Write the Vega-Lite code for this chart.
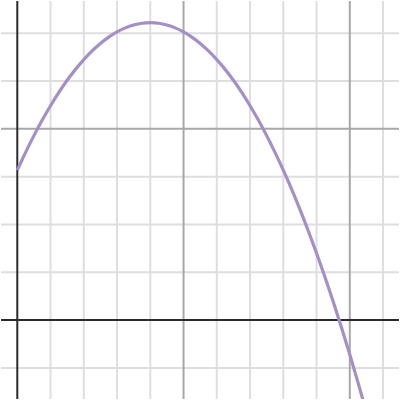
{
  "$schema": "https://vega.github.io/schema/vega-lite/v6.json",
  "width": 400,
  "height": 400,
  "autosize": {"type": "fit", "contains": "padding"},
  "padding": 0,
  "background": "white",
  "config": {"view": {"stroke": null}},
  "layer": [
    {
      "data": {"values": [{"v": 1}, {"v": 2}, {"v": 3}, {"v": 4}, {"v": 6}, {"v": 7}, {"v": 8}, {"v": 9}, {"v": 11}]},
      "mark": {"type": "rule", "color": "#dedede", "strokeWidth": 2},
      "encoding": {"x": {"field": "v", "type": "quantitative", "scale": {"domain": [-0.49, 11.48], "nice": false, "zero": false}, "axis": null}}
    },
    {
      "data": {"values": [{"v": -5}, {"v": 5}, {"v": 10}, {"v": 15}, {"v": 25}, {"v": 30}]},
      "mark": {"type": "rule", "color": "#dedede", "strokeWidth": 2},
      "encoding": {"y": {"field": "v", "type": "quantitative", "scale": {"domain": [-8.25, 33.37], "nice": false, "zero": false}, "axis": null}}
    },
    {
      "data": {"values": [{"v": 5}, {"v": 10}]},
      "mark": {"type": "rule", "color": "#a8a8a8", "strokeWidth": 2},
      "encoding": {"x": {"field": "v", "type": "quantitative", "axis": null}}
    },
    {
      "data": {"values": [{"v": 20}]},
      "mark": {"type": "rule", "color": "#a8a8a8", "strokeWidth": 2},
      "encoding": {"y": {"field": "v", "type": "quantitative", "axis": null}}
    },
    {
      "data": {"values": [{"v": 0}]},
      "mark": {"type": "rule", "color": "#2b2b2b", "strokeWidth": 2},
      "encoding": {"x": {"field": "v", "type": "quantitative", "axis": null}}
    },
    {
      "data": {"values": [{"v": 0}]},
      "mark": {"type": "rule", "color": "#2b2b2b", "strokeWidth": 2},
      "encoding": {"y": {"field": "v", "type": "quantitative", "axis": null}}
    },
    {
      "data": {"values": [
        {"x": 0, "y": 15.68}, {"x": 0.25, "y": 17.54}, {"x": 0.5, "y": 19.29}, {"x": 0.75, "y": 20.92},
        {"x": 1, "y": 22.42}, {"x": 1.25, "y": 23.81}, {"x": 1.5, "y": 25.08}, {"x": 1.75, "y": 26.22},
        {"x": 2, "y": 27.24}, {"x": 2.25, "y": 28.15}, {"x": 2.5, "y": 28.93}, {"x": 2.75, "y": 29.59},
        {"x": 3, "y": 30.14}, {"x": 3.25, "y": 30.56}, {"x": 3.5, "y": 30.86}, {"x": 3.75, "y": 31.04},
        {"x": 4, "y": 31.1}, {"x": 4.25, "y": 31.04}, {"x": 4.5, "y": 30.86}, {"x": 4.75, "y": 30.56},
        {"x": 5, "y": 30.14}, {"x": 5.25, "y": 29.59}, {"x": 5.5, "y": 28.93}, {"x": 5.75, "y": 28.15},
        {"x": 6, "y": 27.24}, {"x": 6.25, "y": 26.22}, {"x": 6.5, "y": 25.08}, {"x": 6.75, "y": 23.81},
        {"x": 7, "y": 22.42}, {"x": 7.25, "y": 20.92}, {"x": 7.5, "y": 19.29}, {"x": 7.75, "y": 17.54},
        {"x": 8, "y": 15.68}, {"x": 8.25, "y": 13.69}, {"x": 8.5, "y": 11.58}, {"x": 8.75, "y": 9.35},
        {"x": 9, "y": 7.0}, {"x": 9.25, "y": 4.53}, {"x": 9.5, "y": 1.94}, {"x": 9.75, "y": -0.77},
        {"x": 10, "y": -3.6}, {"x": 10.25, "y": -6.56}, {"x": 10.5, "y": -9.63}
      ]},
      "mark": {"type": "line", "color": "#a48fc7", "strokeWidth": 3.2, "interpolate": "monotone", "clip": true},
      "encoding": {
        "x": {"field": "x", "type": "quantitative", "axis": null},
        "y": {"field": "y", "type": "quantitative", "axis": null}
      }
    }
  ]
}
